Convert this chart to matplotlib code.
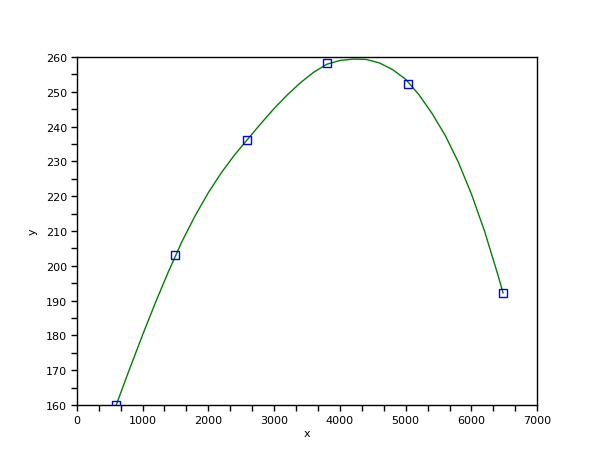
import matplotlib
matplotlib.use("Agg")
import matplotlib.pyplot as plt
from matplotlib.ticker import MultipleLocator, AutoMinorLocator

# measured data points
px = [600, 1490, 2590, 3800, 5040, 6480]
py = [160, 203.2, 236.2, 258.2, 252.2, 192.2]

# fitted curve
cx = [600, 800, 1000, 1200, 1400, 1600, 1800, 2000, 2200, 2400, 2600, 2800, 3000,
      3200, 3400, 3600, 3800, 4000, 4200, 4400, 4600, 4800, 5000, 5200, 5400,
      5600, 5800, 6000, 6200, 6400, 6480]
cy = [160.0, 170.2, 180.1, 189.6, 198.6, 207.0, 214.4, 221.0, 226.8, 231.9, 236.4,
      240.9, 245.2, 249.1, 252.6, 255.6, 257.9, 259.0, 259.4, 259.3, 258.3, 256.4,
      253.6, 249.2, 243.8, 237.5, 229.8, 220.6, 209.9, 197.5, 192.2]

plt.rcParams['font.family'] = ['DejaVu Sans']
fig = plt.figure(figsize=(6.14, 4.64), dpi=100)
ax = fig.add_axes([0.125, 0.125, 0.75, 0.75])

ax.plot(cx, cy, color='#008000', lw=1.0, zorder=2)
ax.plot(px, py, linestyle='none', marker='s', markersize=6, markerfacecolor='none',
        markeredgecolor='#0000ff', markeredgewidth=1.0, zorder=3)

ax.set_xlim(0, 7000)
ax.set_ylim(160, 260)
ax.xaxis.set_major_locator(MultipleLocator(1000))
ax.xaxis.set_minor_locator(AutoMinorLocator(3))
ax.yaxis.set_major_locator(MultipleLocator(10))
ax.yaxis.set_minor_locator(AutoMinorLocator(2))
ax.tick_params(which='both', direction='out', top=False, right=False, labelsize=8,
               width=1, color='black')
ax.tick_params(which='major', length=4, pad=3)
ax.tick_params(which='minor', length=4)
for s in ax.spines.values():
    s.set_linewidth(1.0)

ax.set_xlabel('x', fontsize=8)
ax.set_ylabel('y', fontsize=8)
ax.xaxis.set_label_coords(0.5, -0.065)
ax.yaxis.set_label_coords(-0.085, 0.5)

fig.savefig('out.png', dpi=100)
